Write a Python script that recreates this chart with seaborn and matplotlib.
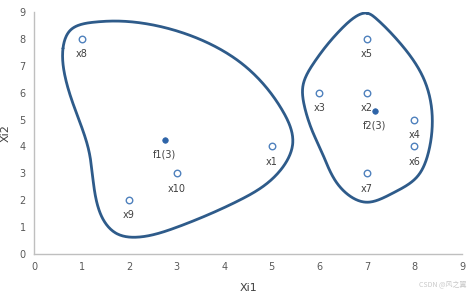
import numpy as np
import pandas as pd
import matplotlib
matplotlib.use("Agg")
import matplotlib.pyplot as plt
import seaborn as sns

# ---- data ----
point_names = ["x1", "x2", "x3", "x4", "x5", "x6", "x7", "x8", "x9", "x10"]
point_x = [5, 7, 6, 8, 7, 8, 7, 1, 2, 3]
point_y = [4, 6, 6, 5, 8, 4, 3, 8, 2, 3]

centroid_names = ["f1(3)", "f2(3)"]
centroid_x = [2.75, 7.17]
centroid_y = [4.25, 5.33]

# boundary control points (data coords), closed curves
left_bx = [0.61, 0.78, 1.30, 1.85, 2.80, 4.33, 5.22, 5.44, 5.05, 4.33,
           3.01, 2.20, 1.75, 1.45, 1.25, 1.15, 0.86, 0.66]
left_by = [7.65, 8.35, 8.63, 8.66, 8.40, 7.14, 5.35, 4.10, 2.86, 2.01,
           1.00, 0.63, 0.75, 1.30, 2.64, 3.87, 5.40, 6.55]
right_bx = [7.00, 6.44, 5.90, 5.66, 5.68, 5.87, 6.05, 6.37, 6.79, 7.05, 7.55,
            8.05, 8.29, 8.37, 8.18, 7.70, 7.20]
right_by = [8.96, 8.33, 7.15, 6.30, 5.55, 4.50, 3.80, 2.64, 2.01, 1.93, 2.27,
            2.86, 3.75, 5.24, 6.58, 7.84, 8.75]

x_ticks = list(range(0, 10))
y_ticks = list(range(0, 10))


def periodic_spline(xs, ys, n=600):
    sx, sy = 47.55, 26.9
    P = np.column_stack([np.asarray(xs) * sx, np.asarray(ys) * sy]).astype(float)
    m = len(P)
    d = np.linalg.norm(np.roll(P, -1, axis=0) - P, axis=1)
    h = d ** 0.8
    t = np.concatenate([[0], np.cumsum(h)])
    A = np.zeros((m, m))
    for i in range(m):
        hp, hi = h[(i - 1) % m], h[i]
        A[i, (i - 1) % m] += hp
        A[i, i] += 2 * (hp + hi)
        A[i, (i + 1) % m] += hi
    res = []
    tt = np.linspace(0, t[-1], n)
    for k in range(2):
        y = P[:, k]
        rhs = np.array([6 * ((y[(i + 1) % m] - y[i]) / h[i] - (y[i] - y[(i - 1) % m]) / h[(i - 1) % m])
                        for i in range(m)])
        M = np.linalg.solve(A, rhs)
        idx = np.clip(np.searchsorted(t, tt, side="right") - 1, 0, m - 1)
        hi = h[idx]
        a = (t[idx + 1] - tt) / hi
        b = (tt - t[idx]) / hi
        y0, y1 = y[idx], y[(idx + 1) % m]
        M0, M1 = M[idx], M[(idx + 1) % m]
        val = a * y0 + b * y1 + ((a ** 3 - a) * M0 + (b ** 3 - b) * M1) * hi ** 2 / 6
        res.append(val)
    return res[0] / sx, res[1] / sy


sns.set_theme(style="white")
plt.rcParams['font.family'] = ['DejaVu Sans', 'Noto Sans CJK SC']

fig = plt.figure(figsize=(4.74, 2.94), dpi=100)
ax = fig.add_axes([0.0717, 0.136, 0.903, 0.823])

line_color = "#2E5B8A"
for bx, by in [(left_bx, left_by), (right_bx, right_by)]:
    cx, cy = periodic_spline(bx, by)
    ax.plot(cx, cy, color=line_color, lw=2.0, solid_joinstyle="round", zorder=2)

pts = pd.DataFrame({"x": point_x, "y": point_y, "name": point_names})
sns.scatterplot(data=pts, x="x", y="y", ax=ax, marker="o", s=22,
                facecolor="white", edgecolor="#4F81BD", linewidth=1.0, zorder=3)
cen = pd.DataFrame({"x": centroid_x, "y": centroid_y, "name": centroid_names})
sns.scatterplot(data=cen, x="x", y="y", ax=ax, marker="o", s=16,
                color="#2E64A8", edgecolor="#2E64A8", linewidth=0.5, zorder=3)

lab_color = "#404040"
for _, r in pts.iterrows():
    ax.text(r.x, r.y - 0.38, r["name"], ha="center", va="top", fontsize=7, color=lab_color)
for _, r in cen.iterrows():
    ax.text(r.x, r.y - 0.38, r["name"], ha="center", va="top", fontsize=7, color=lab_color)

ax.set_xlim(0, 9)
ax.set_ylim(0, 9)
ax.set_xticks(x_ticks)
ax.set_yticks(y_ticks)
ax.tick_params(axis="both", labelsize=7, colors="#595959", length=0, pad=6)
for s in ["top", "right"]:
    ax.spines[s].set_visible(False)
for s in ["left", "bottom"]:
    ax.spines[s].set_color("#BFBFBF")
    ax.spines[s].set_linewidth(1.0)
ax.set_xlabel("Xi1", fontsize=8, color="#404040")
ax.set_ylabel("Xi2", fontsize=8, color="#404040", labelpad=6)
ax.xaxis.label.set_horizontalalignment("left")
ax.xaxis.set_label_coords((248 - 34) / 428 - 0.02, -0.12)

fig.text(0.985, 0.02, "CSDN @风之翼", ha="right", va="bottom", fontsize=5,
         color="#C8C8C8", family=['Noto Sans CJK SC', 'DejaVu Sans'])

fig.savefig("out.png", dpi=100)
